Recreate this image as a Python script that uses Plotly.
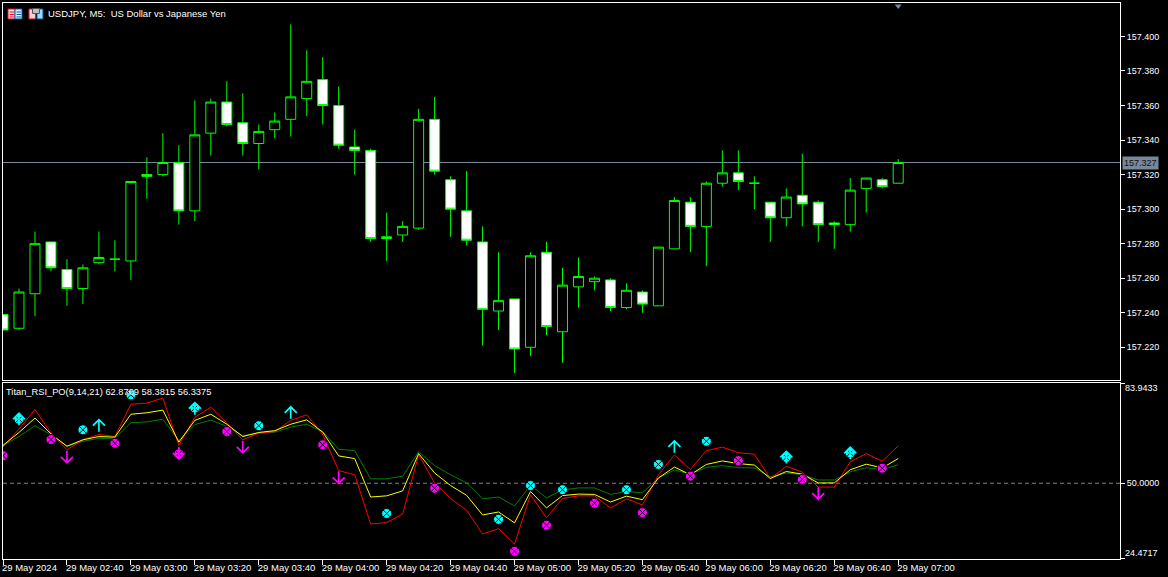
import plotly.graph_objects as go

# ---------- data ----------
bar_index = list(range(57))
open_p = [157.239,157.231,157.251,157.281,157.265,157.254,157.269,157.271,157.270,157.320,
          157.320,157.327,157.299,157.344,157.362,157.350,157.338,157.346,157.352,157.364,
          157.375,157.360,157.336,157.334,157.283,157.285,157.289,157.352,157.317,157.299,
          157.281,157.241,157.248,157.220,157.275,157.229,157.255,157.258,157.259,157.243,
          157.252,157.244,157.277,157.304,157.290,157.315,157.321,157.315,157.304,157.295,
          157.308,157.304,157.292,157.291,157.312,157.317,157.315]
high_p = [157.239,157.254,157.287,157.281,157.271,157.268,157.287,157.282,157.316,157.330,
          157.344,157.337,157.363,157.364,157.374,157.367,157.349,157.356,157.407,157.392,
          157.388,157.371,157.346,157.335,157.298,157.293,157.358,157.365,157.319,157.322,
          157.290,157.275,157.248,157.275,157.281,157.266,157.272,157.261,157.260,157.257,
          157.253,157.278,157.307,157.307,157.316,157.334,157.334,157.319,157.304,157.312,
          157.332,157.305,157.293,157.318,157.318,157.318,157.329]
low_p = [157.230,157.230,157.238,157.264,157.244,157.245,157.268,157.264,157.259,157.306,
         157.319,157.291,157.293,157.331,157.348,157.331,157.323,157.341,157.342,157.354,
         157.349,157.335,157.320,157.281,157.270,157.281,157.288,157.320,157.284,157.279,
         157.221,157.230,157.205,157.215,157.227,157.211,157.243,157.253,157.241,157.242,
         157.240,157.244,157.277,157.275,157.267,157.313,157.311,157.300,157.281,157.290,
         157.290,157.281,157.277,157.287,157.298,157.312,157.315]
close_p = [157.230,157.252,157.280,157.266,157.254,157.266,157.272,157.271,157.316,157.319,
           157.327,157.299,157.343,157.362,157.349,157.338,157.345,157.351,157.365,157.374,
           157.360,157.337,157.334,157.283,157.284,157.290,157.352,157.322,157.300,157.282,
           157.242,157.247,157.219,157.273,157.232,157.256,157.261,157.260,157.243,157.253,
           157.245,157.278,157.305,157.290,157.315,157.321,157.316,157.315,157.295,157.307,
           157.303,157.291,157.291,157.311,157.318,157.313,157.327]
current_price = 157.327

rsi_fast = [62.3,68.5,75.1,67.1,61.4,64.8,66.6,65.9,76.9,77.3,79.0,62.9,72.5,75.9,70.5,64.8,
            67.1,67.6,71.4,73.3,66.5,54.3,52.9,36.1,36.6,39.5,59.7,50.1,44.8,40.8,32.7,34.5,
            29.3,46.1,38.2,44.8,45.7,45.7,41.6,44.7,42.6,52.9,59.6,54.7,61.1,62.3,60.4,59.9,
            51.6,55.8,53.8,48.7,48.7,57.3,60.1,57.5,62.7]
rsi_mid = [62.9,67.3,72.2,66.8,62.6,64.8,65.9,65.7,73.5,74.0,74.9,64.0,71.4,73.5,70.1,65.9,
           67.3,67.9,70.1,71.6,67.4,59.3,58.4,45.3,45.7,47.4,60.1,53.5,49.2,45.9,39.2,40.2,
           36.5,47.2,41.6,45.8,46.3,46.2,43.6,45.6,44.4,51.8,55.5,52.9,56.4,57.6,56.7,56.2,
           51.6,54.0,53.1,50.1,50.1,54.6,56.5,55.2,58.4]
rsi_slow = [62.9,65.9,69.6,66.5,62.6,64.3,65.3,65.3,70.6,70.9,71.8,64.5,70.0,71.5,69.4,66.2,
            67.1,67.4,69.1,70.1,67.6,61.6,61.1,51.5,51.5,52.4,60.7,56.0,52.9,50.1,44.7,45.3,
            42.3,49.3,45.0,47.7,48.4,48.4,46.2,47.2,46.7,51.8,54.5,53.1,55.4,56.0,55.3,55.2,
            52.2,53.5,52.9,51.1,51.1,53.9,55.3,54.6,56.3]

up_arrow_idx = [1,6,12,18,42,49,53]
up_arrow_val = [71.8,69.6,75.4,74.0,62.4,58.8,60.2]
down_arrow_idx = [4,11,15,21,51]
down_arrow_val = [59.0,60.3,62.4,52.0,46.6]
cyan_cross_idx = [1,5,8,12,16,24,31,33,35,39,41,44,49,53]
cyan_cross_val = [71.8,68.2,80.1,75.6,69.6,39.7,37.7,49.2,47.8,47.8,56.4,64.3,58.8,60.3]
magenta_cross_idx = [0,3,7,11,14,20,27,32,34,37,40,43,46,50,55]
magenta_cross_val = [59.4,64.9,63.6,60.0,67.6,63.1,48.3,26.8,35.7,43.2,40.0,52.4,57.7,51.3,55.1]

time_tick_idx = list(range(0,57,4))
time_tick_txt = ["29 May 2024","29 May 02:40","29 May 03:00","29 May 03:20","29 May 03:40",
                 "29 May 04:00","29 May 04:20","29 May 04:40","29 May 05:00","29 May 05:20",
                 "29 May 05:40","29 May 06:00","29 May 06:20","29 May 06:40","29 May 07:00"]
price_ticks = [157.22,157.24,157.26,157.28,157.30,157.32,157.34,157.36,157.38,157.40]
rsi_ticks = [83.9433,50.0,24.4717]
rsi_tick_txt = ["","50.0000",""]
title_text = "USDJPY, M5:  US Dollar vs Japanese Yen"
sub_title_text = "Titan_RSI_PO(9,14,21) 62.8709 58.3815 56.3375"

# ---------- geometry ----------
W,H = 1168,577
L,R,T,B = 2.5,1120.5,2.5,559.5
main_bottom = 380.5
sub_top = 383.5
FONT = "Liberation Sans"
GREEN = "#00FF00"
SLATE = "#778899"
px = lambda x:(x-L)/(R-L)
py = lambda y:(B-y)/(B-T)

fig = go.Figure()
fig.add_trace(go.Candlestick(
    x=bar_index,open=open_p,high=high_p,low=low_p,close=close_p,xaxis="x",yaxis="y",
    increasing=dict(line=dict(color=GREEN,width=1),fillcolor="#000000"),
    decreasing=dict(line=dict(color=GREEN,width=1),fillcolor="#FFFFFF"),
    whiskerwidth=0,showlegend=False,hoverinfo="skip"))
fig.add_trace(go.Scatter(x=[bar_index[-1]],y=[157.4176],xaxis="x",yaxis="y",mode="markers",
    marker=dict(symbol="triangle-down",size=6,color=SLATE),showlegend=False,hoverinfo="skip"))

for vals,col in ((rsi_slow,"#008000"),(rsi_fast,"#FF0000"),(rsi_mid,"#FFFF00")):
    fig.add_trace(go.Scatter(x=bar_index,y=vals,xaxis="x2",yaxis="y2",mode="lines",
        line=dict(color=col,width=1),showlegend=False,hoverinfo="skip"))
for idx,vals,col in ((cyan_cross_idx,cyan_cross_val,"#00FFFF"),(magenta_cross_idx,magenta_cross_val,"#FF00FF")):
    fig.add_trace(go.Scatter(x=idx,y=vals,xaxis="x2",yaxis="y2",mode="markers",
        marker=dict(symbol="circle-x",size=10,color=col,line=dict(color="#000000",width=1)),
        showlegend=False,hoverinfo="skip"))

xr = [0,(R-L)/16]
axis_x = dict(range=xr,showgrid=False,zeroline=False,showline=True,mirror=True,linecolor="white",linewidth=1)
fig.update_layout(
    width=W,height=H,paper_bgcolor="#000000",plot_bgcolor="#000000",
    margin=dict(l=L,r=W-R,t=T,b=H-B,pad=0,autoexpand=False),
    boxgap=0.375,boxgroupgap=0,showlegend=False,
    font=dict(family=FONT,size=9.5,color="white"),
    xaxis=dict(axis_x,anchor="y",domain=[0,1],showticklabels=False,ticks="",rangeslider=dict(visible=False)),
    yaxis=dict(domain=[py(main_bottom),1],range=[157.4-(main_bottom-36)/1730,157.4+(36-T)/1730],
               side="right",anchor="x",tickmode="array",tickvals=price_ticks,
               ticktext=[f"{v:.3f}" for v in price_ticks],ticks="outside",ticklen=4,tickcolor="white",
               tickfont=dict(family=FONT,size=9,color="white"),showgrid=False,zeroline=False,
               showline=True,mirror=True,linecolor="white",linewidth=1),
    xaxis2=dict(axis_x,anchor="y2",domain=[0,1],tickmode="array",tickvals=time_tick_idx,ticktext=time_tick_txt,
                ticks="outside",ticklen=5,tickcolor="white",ticklabelposition="outside right",ticklabelshift=-2,
                tickangle=0,tickfont=dict(family=FONT,size=9.5,color="white")),
    yaxis2=dict(domain=[0,py(sub_top)],range=[50+(483.6-B)*0.34,50+(483.6-sub_top)*0.34],
                side="right",anchor="x2",tickmode="array",tickvals=rsi_ticks,ticktext=rsi_tick_txt,
                ticks="outside",ticklen=4,tickcolor="white",tickfont=dict(family=FONT,size=9,color="white"),
                showgrid=False,zeroline=False,showline=True,mirror=True,linecolor="white",linewidth=1),
)

# price line and RSI level
fig.add_shape(type="line",xref="x domain",yref="y",x0=0,x1=1,y0=current_price,y1=current_price,
              line=dict(color=SLATE,width=1),layer="below")
fig.add_shape(type="line",xref="x2 domain",yref="y2",x0=0,x1=1,y0=50,y1=50,
              line=dict(color="#808080",width=1,dash="4px,3px"),layer="below")

# indicator arrows: pixel-sized glyphs anchored on data values
UP_PATH = "M0,-6 L0,6 M-6,0 L0,6 L6,0"
DOWN_PATH = "M0,6 L0,-6 M-6,0 L0,-6 L6,0"
for idx,vals,col,path in ((up_arrow_idx,up_arrow_val,"#00FFFF",UP_PATH),(down_arrow_idx,down_arrow_val,"#FF00FF",DOWN_PATH)):
    for i,v in zip(idx,vals):
        fig.add_shape(type="path",xref="x2",yref="y2",xsizemode="pixel",ysizemode="pixel",
                      xanchor=i,yanchor=v,path=path,line=dict(color=col,width=1.7),layer="above")

# header icons
def rect(x0,y0,x1,y1,fill,line=None):
    fig.add_shape(type="rect",xref="paper",yref="paper",x0=px(x0),x1=px(x1),y0=py(y0),y1=py(y1),
                  fillcolor=fill,line=dict(color=line or fill,width=1 if line else 0))
rect(7.5,8.5,14.5,18.5,"#FFE0E0","#E01030")
rect(14.5,8.5,21.5,18.5,"#E0F0FF","#0060A0")
for yy in (11,13.5,16):
    rect(9,yy,13.5,yy+1,"#E01030")
    rect(16,yy,20.5,yy+1,"#0060A0")
rect(28.5,8.5,35,18.5,"#FFD0D0","#E01030")
rect(36.5,8.5,42.5,18.5,"#A0D8FF","#0060A0")
rect(32,8,39,13,"#C0C0C0","#505050")

# texts
def note(x,y,text,color="white",bg=None,size=9.5):
    fig.add_annotation(xref="paper",yref="paper",x=px(x),y=py(y),text=text,showarrow=False,
                       xanchor="left",yanchor="middle",align="left",
                       font=dict(family=FONT,size=size,color=color),bgcolor=bg,borderpad=0)
note(47,13.5,title_text)
note(5,392,sub_title_text,size=9.3)
note(1124.5,388,f"{rsi_ticks[0]:.4f}",size=9)
note(1124.5,553,f"{rsi_ticks[2]:.4f}",size=9)
fig.add_annotation(xref="paper",yref="y",x=px(1123),y=current_price,text=f"{current_price:.3f}",showarrow=False,
                   xanchor="left",yanchor="middle",font=dict(family=FONT,size=9,color="#101010"),
                   bgcolor=SLATE,borderpad=1)

fig.write_html("out.html",config=dict(displayModeBar=False),
               post_script="document.body.style.margin='0';document.body.style.background='#000';document.body.style.overflow='hidden';")
